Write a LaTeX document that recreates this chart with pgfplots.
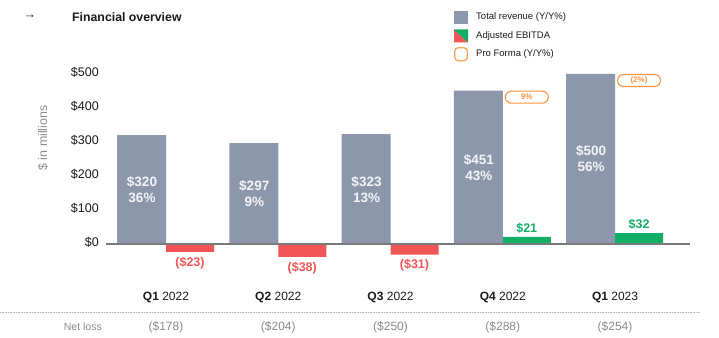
\documentclass[border=0pt]{standalone}
\usepackage{pgfplots}
\pgfplotsset{compat=1.18}
\usepackage{fontspec}
\setmainfont{Liberation Sans}
\definecolor{revgray}{HTML}{8C97AB}
\definecolor{ebred}{HTML}{F25555}
\definecolor{ebgreen}{HTML}{12AD66}
\definecolor{proorange}{HTML}{F7943F}
\definecolor{darktext}{HTML}{1A1A1A}
\definecolor{softgray}{HTML}{8C8C8C}
\definecolor{basegray}{HTML}{7A7A7A}
\definecolor{barlabel}{HTML}{F4F5F8}
\begin{document}
\begin{tikzpicture}[x=1pt,y=1pt]
\path[use as bounding box, fill=white] (0,0) rectangle (719,337);
% title
\node[anchor=west, font=\bfseries\fontsize{12.5}{14}\selectfont, text=darktext, inner sep=0] at (23.5,320.5) {→};
\node[anchor=west, font=\bfseries\fontsize{12.3}{14}\selectfont, text=darktext, inner sep=0] at (72,320) {Financial overview};
% legend
\fill[revgray] (454,313) rectangle (468,326);
\node[anchor=west, inner sep=0, font=\fontsize{9.5}{11}\selectfont, text=darktext] at (476,319.5) {Total revenue (Y/Y\%)};
\fill[ebred] (454,307.5) -- (454,294.5) -- (468,294.5) -- cycle;
\fill[ebgreen] (454,307.5) -- (468,307.5) -- (468,294.5) -- cycle;
\node[anchor=west, inner sep=0, font=\fontsize{9.5}{11}\selectfont, text=darktext] at (476,301) {Adjusted EBITDA};
\draw[proorange!85, line width=1.3pt, rounded corners=3.5pt] (454.7,276.3) rectangle (467.3,289.3);
\node[anchor=west, inner sep=0, font=\fontsize{9.5}{11}\selectfont, text=darktext] at (476,282.5) {Pro Forma (Y/Y\%)};
% net loss row
\draw[gray!55, densely dotted, line width=0.6pt] (0,25) -- (700,25);
\node[anchor=east, inner sep=0, font=\fontsize{10.5}{12}\selectfont, text=softgray] at (102,10) {Net loss};
\begin{axis}[
  at={(106pt,72.6pt)}, anchor=south west,
  scale only axis, width=584pt, height=197.2pt,
  xmin=-0.5345, xmax=4.668, ymin=-60, ymax=520,
  clip=false,
  axis line style={draw=none},
  major tick length=0pt,
  tick style={draw=none},
  ytick={0,100,200,300,400,500},
  yticklabels={\$0,\$100,\$200,\$300,\$400,\$500},
  yticklabel style={anchor=east, inner sep=0pt, xshift=-7pt, yshift=2pt, font=\fontsize{12.5}{14}\selectfont, text=darktext},
  xtick={0,1,2,3,4},
  xticklabels={{\textbf{Q1} 2022},{\textbf{Q2} 2022},{\textbf{Q3} 2022},{\textbf{Q4} 2022},{\textbf{Q1} 2023}},
  xticklabel style={anchor=center, inner sep=0pt, yshift=-32.6pt, font=\fontsize{12}{14}\selectfont, text=darktext},
  ylabel={\$ in millions},
  ylabel style={at={(axis description cs:-0.108,0.641)}, anchor=center, font=\fontsize{12.4}{14}\selectfont, text=softgray},
]
\addplot[ybar, bar width=49pt, bar shift=-24.5pt, fill=revgray, draw=none] coordinates {(0,320) (1,297) (2,323) (3,451) (4,500)};
\addplot[ybar, bar width=48pt, bar shift=24pt, fill=ebred, draw=none] coordinates {(0,-23) (1,-38) (2,-31)};
\addplot[ybar, bar width=48pt, bar shift=24pt, fill=ebgreen, draw=none] coordinates {(3,21) (4,32)};
\draw[basegray, line width=1.3pt] (axis cs:-0.5345,0) -- (axis cs:4.668,0);
% revenue labels
\tikzset{revlab/.style={xshift=-24pt, align=center, inner sep=0pt, text=barlabel, font=\bfseries\fontsize{13.5}{16}\selectfont}}
\node[revlab] at (axis cs:0,160) {\$320\\36\%};
\node[revlab] at (axis cs:1,148.5) {\$297\\9\%};
\node[revlab] at (axis cs:2,161.5) {\$323\\13\%};
\node[revlab] at (axis cs:3,225.5) {\$451\\43\%};
\node[revlab] at (axis cs:4,250) {\$500\\56\%};
% EBITDA labels
\tikzset{neglab/.style={xshift=24pt, yshift=-11pt, inner sep=0pt, text=ebred, font=\bfseries\fontsize{12.5}{14}\selectfont},
         poslab/.style={xshift=24pt, yshift=9pt, inner sep=0pt, text=ebgreen, font=\bfseries\fontsize{12.5}{14}\selectfont}}
\node[neglab] at (axis cs:0,-23) {(\$23)};
\node[neglab] at (axis cs:1,-38) {(\$38)};
\node[neglab] at (axis cs:2,-31) {(\$31)};
\node[poslab] at (axis cs:3,21) {\$21};
\node[poslab] at (axis cs:4,32) {\$32};
% pro forma boxes
\tikzset{pflab/.style={xshift=24pt, yshift=-6.5pt, draw=proorange, line width=1.1pt, fill=white, rounded corners=6pt, minimum width=43pt, minimum height=12pt, inner sep=0pt, text=proorange, font=\bfseries\fontsize{8}{9}\selectfont}}
\node[pflab] at (axis cs:3,451) {9\%};
\node[pflab] at (axis cs:4,500) {(2\%)};
% net loss values
\tikzset{nllab/.style={inner sep=0pt, text=softgray, font=\fontsize{12}{14}\selectfont}}
\node[nllab] at (axis cs:0,-244) {(\$178)};
\node[nllab] at (axis cs:1,-244) {(\$204)};
\node[nllab] at (axis cs:2,-244) {(\$250)};
\node[nllab] at (axis cs:3,-244) {(\$288)};
\node[nllab] at (axis cs:4,-244) {(\$254)};
\end{axis}
\end{tikzpicture}
\end{document}
